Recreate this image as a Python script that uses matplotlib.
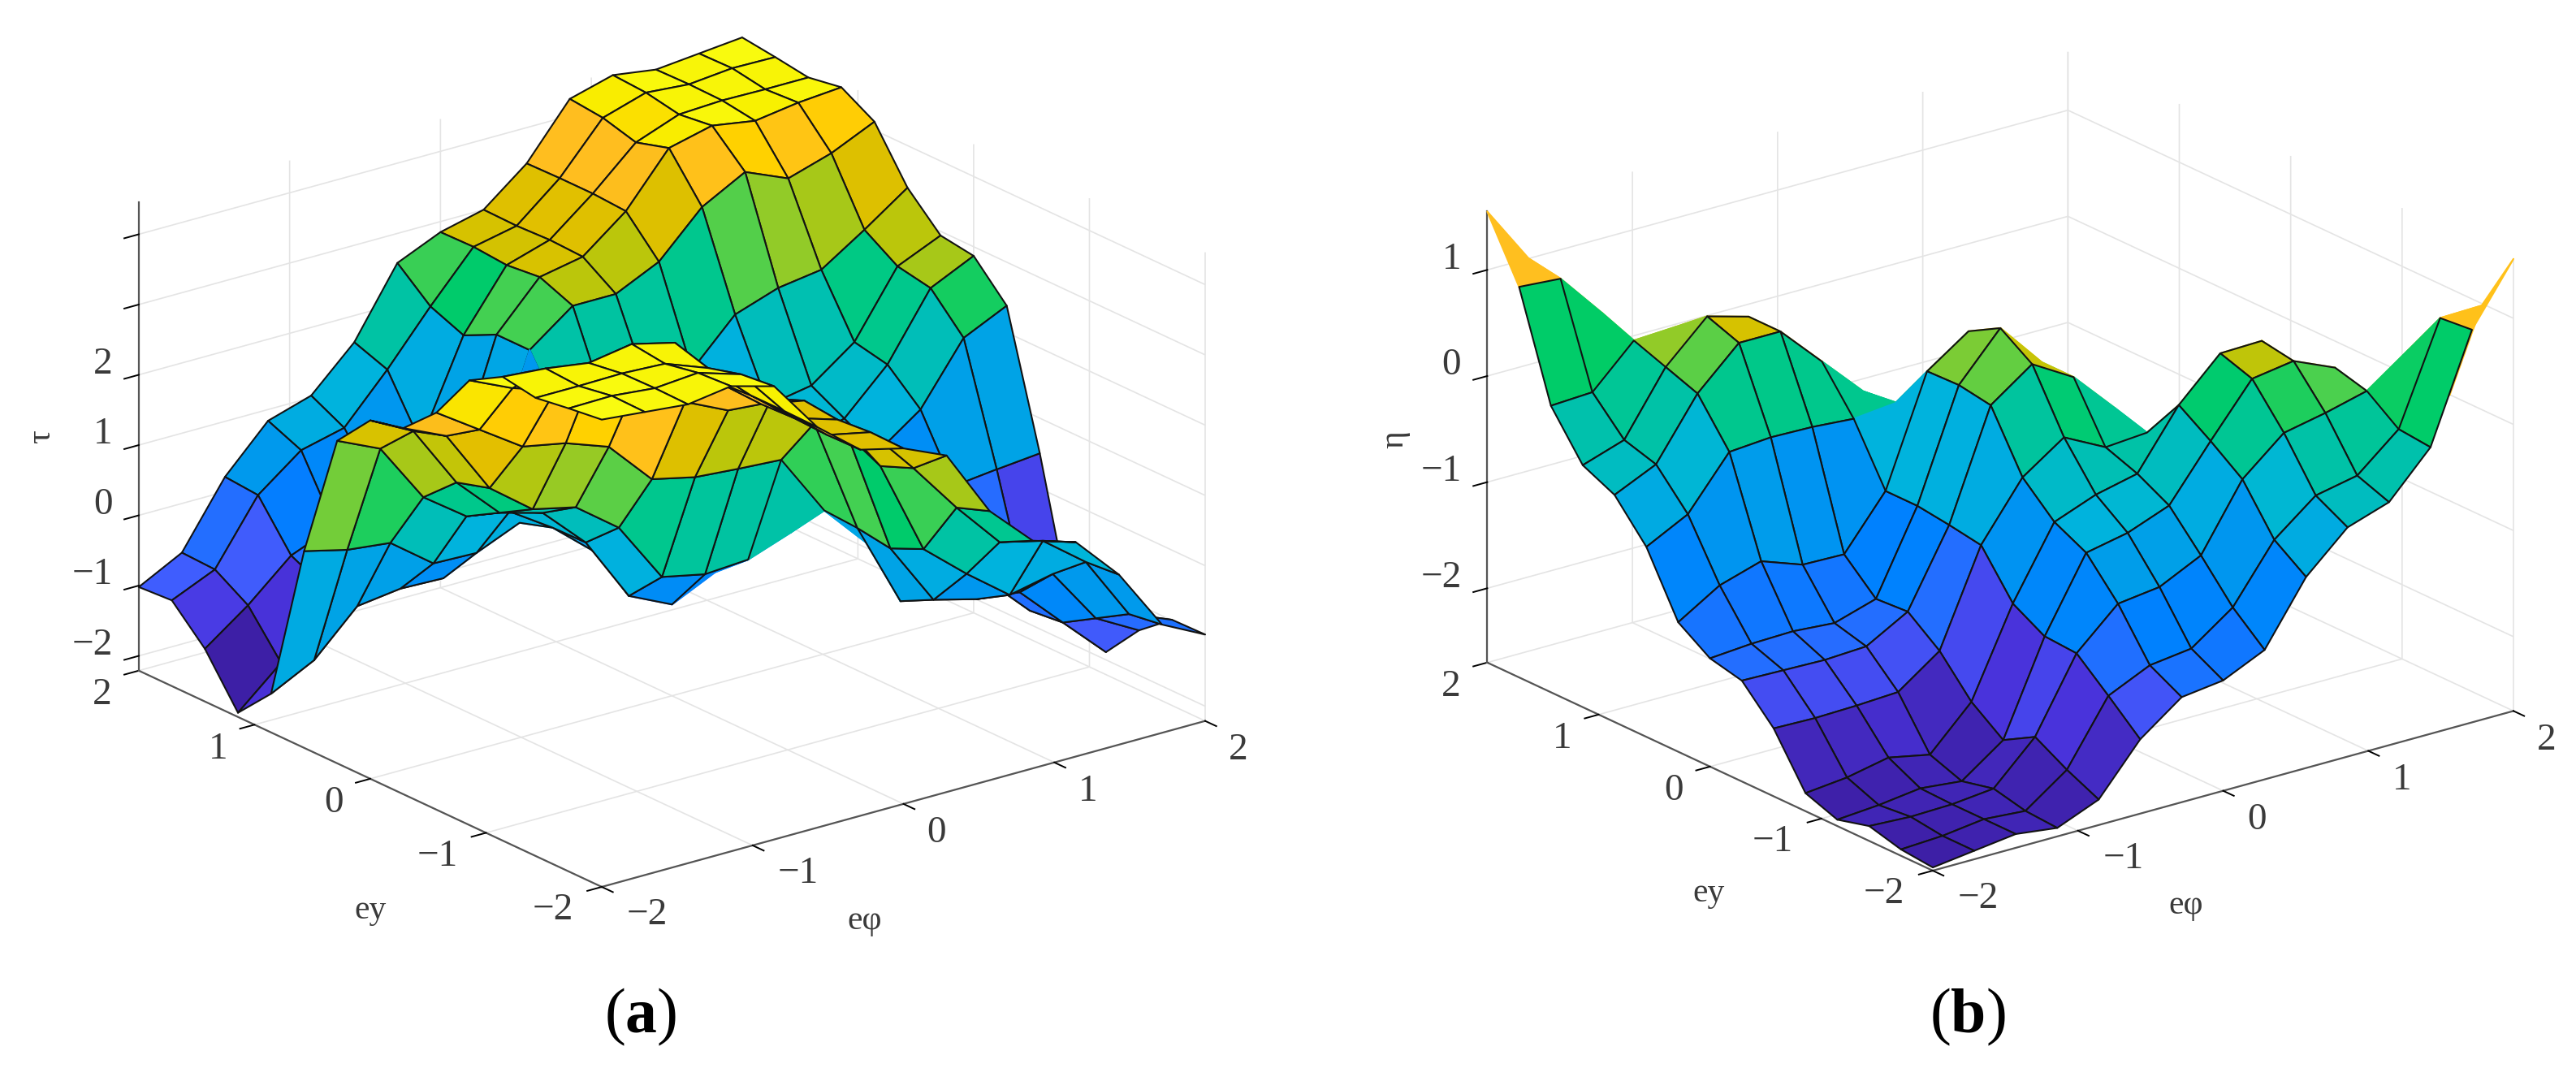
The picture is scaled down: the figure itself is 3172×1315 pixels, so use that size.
import numpy as np
import matplotlib
matplotlib.use("Agg")
import matplotlib.pyplot as plt
from matplotlib.colors import LinearSegmentedColormap
from mpl_toolkits.mplot3d import proj3d

plt.rcParams['font.family'] = ['Liberation Serif', 'DejaVu Sans']
plt.rcParams['mathtext.fontset'] = 'custom'
plt.rcParams['mathtext.rm'] = 'Liberation Serif'
plt.rcParams['mathtext.bf'] = 'Liberation Serif:bold'

axis_ticks = [-2, -1, 0, 1, 2]

# rows are ey from -2 to 2, columns are e_phi from -2 to 2
tau = [
    [4.44, 4.38, 4.32, 4.41, 4.24, 3.49, 3.00, 2.85, 2.58, 1.62, 1.03, 0.84, 0.21, -0.67, -0.98],
    [4.38, 4.39, 4.33, 4.38, 4.19, 3.50, 2.99, 2.86, 2.18, 1.45, 0.79, 0.64, 0.17, -0.74, -0.99],
    [4.31, 4.31, 4.32, 4.29, 4.06, 3.50, 3.01, 2.82, 1.99, 0.64, 0.12, -0.35, -0.22, -1.02, -1.36],
    [4.39, 4.34, 4.25, 4.35, 4.20, 3.47, 2.99, 2.87, 2.22, 0.43, -0.47, -0.63, -0.70, -1.30, -1.89],
    [4.12, 3.84, 3.65, 3.91, 3.58, 2.97, 2.68, 2.68, 2.16, 0.50, -0.71, -0.67, -0.75, -1.35, -1.66],
    [3.44, 3.03, 2.62, 2.50, 2.28, 1.65, 1.51, 1.46, 1.42, 0.53, -0.11, -0.09, 0.37, 0.44, 0.50],
    [3.00, 2.72, 1.81, 1.34, 1.20, 0.74, -0.13, -0.26, -0.22, 0.00, 0.70, 0.80, 1.24, 2.09, 2.38],
    [2.89, 2.57, 1.67, 1.07, 0.90, 0.31, -0.62, -0.91, -0.62, 0.31, 0.90, 1.06, 1.66, 2.58, 2.87],
    [2.38, 2.10, 1.24, 0.80, 0.70, 0.30, -0.22, -0.26, -0.13, 0.74, 1.20, 1.31, 1.76, 2.67, 2.94],
    [0.59, 0.44, 0.37, -0.09, -0.11, 0.15, 1.42, 1.46, 1.51, 1.65, 2.27, 2.48, 2.57, 2.97, 3.40],
    [-1.66, -1.35, -0.75, -0.67, -0.69, 0.50, 2.22, 2.68, 2.68, 2.97, 3.58, 3.91, 3.65, 3.84, 4.12],
    [-2.15, -1.61, -0.70, -0.63, -0.47, 0.43, 2.22, 2.87, 2.99, 3.47, 4.20, 4.35, 4.25, 4.34, 4.39],
    [-1.46, -1.01, -0.47, -0.22, 0.12, 0.64, 1.99, 2.82, 3.01, 3.50, 4.06, 4.29, 4.32, 4.31, 4.31],
    [-0.99, -0.72, 0.17, 0.64, 0.79, 1.45, 2.18, 2.86, 2.99, 3.50, 4.19, 4.38, 4.33, 4.39, 4.38],
    [-1.02, -0.70, 0.21, 0.84, 1.03, 1.62, 2.58, 2.85, 3.00, 3.49, 4.24, 4.41, 4.32, 4.38, 4.44],
]

eta = [
    [-2.67, -2.62, -2.57, -2.62, -2.46, -2.00, -1.71, -1.66, -1.48, -0.90, -0.54, -0.41, 0.00, 1.00, 1.56],
    [-2.64, -2.62, -2.57, -2.60, -2.32, -1.73, -1.55, -1.50, -1.22, -0.69, -0.38, -0.30, 0.03, 0.97, 0.98],
    [-2.56, -2.58, -2.57, -2.53, -2.15, -1.47, -1.11, -1.06, -0.87, -0.26, 0.07, 0.15, 0.25, 0.53, 0.00],
    [-2.64, -2.61, -2.56, -2.60, -2.32, -1.45, -0.77, -0.69, -0.54, -0.04, 0.44, 0.50, 0.33, -0.29, -0.42],
    [-2.53, -2.49, -2.41, -2.49, -2.10, -1.28, -0.62, -0.47, -0.38, 0.16, 0.54, 0.55, 0.18, -0.38, -0.56],
    [-2.06, -2.07, -2.06, -2.04, -1.76, -0.87, -0.34, -0.07, -0.27, -0.24, -0.21, -0.20, -0.23, -0.71, -0.91],
    [-1.75, -1.76, -1.77, -1.75, -1.53, -0.82, 0.20, 0.48, 0.25, -0.15, -1.27, -1.26, -1.12, -1.24, -1.48],
    [-1.68, -1.65, -1.64, -1.67, -1.55, -0.78, 0.25, 0.68, 0.25, -0.78, -1.55, -1.67, -1.64, -1.65, -1.68],
    [-1.48, -1.24, -1.12, -1.26, -1.27, -0.78, 0.24, 0.51, 0.20, -0.82, -1.53, -1.75, -1.77, -1.76, -1.75],
    [-0.91, -0.71, -0.23, -0.20, -0.21, -0.24, -0.20, -0.07, -0.34, -0.87, -1.76, -2.04, -2.06, -2.07, -2.06],
    [-0.56, -0.38, 0.18, 0.55, 0.55, 0.16, -0.23, -0.47, -0.62, -1.28, -2.10, -2.49, -2.41, -2.49, -2.53],
    [-0.42, -0.29, 0.29, 0.66, 0.55, -0.04, -0.54, -0.69, -0.77, -1.45, -2.32, -2.60, -2.56, -2.61, -2.64],
    [0.00, 0.02, 0.40, 0.42, 0.07, -0.26, -0.87, -1.06, -1.11, -1.47, -2.15, -2.53, -2.57, -2.58, -2.56],
    [0.98, 0.95, 0.52, -0.30, -0.38, -0.69, -1.22, -1.50, -1.55, -1.73, -2.32, -2.60, -2.57, -2.62, -2.64],
    [1.55, 1.00, 0.00, -0.41, -0.54, -0.90, -1.48, -1.66, -1.71, -2.00, -2.46, -2.62, -2.57, -2.62, -2.67],
]

cmap_stops = [0.0, 0.09, 0.18, 0.26, 0.38, 0.45, 0.52, 0.58, 0.635, 0.665, 0.70, 0.73, 0.76, 0.80, 0.86, 0.92, 0.97, 1.0]
cmap_colors = ['#3d1fa6', '#4a35e0', '#3f5fff', '#0080ff', '#00a0e8', '#00b4dc', '#00bfb5', '#00c88c',
               '#00cc66', '#48d050', '#8fcb2a', '#b8c60c', '#d6c200', '#e8be00', '#ffbe20', '#ffd000',
               '#f8f000', '#f9fb10']
surf_map = LinearSegmentedColormap.from_list('surf', list(zip(cmap_stops, cmap_colors)))

W, H = 3172, 1315
fig = plt.figure(figsize=(W / 200, H / 200), dpi=200)


def minus(v):
    return str(v).replace('-', '\u2212')


def bare_face_a(i, j):
    # the two notches under the front hill have no outline in the original
    return i + j in (13, 14) and 4 <= i <= 9


def bare_face_b(i, j):
    # neither do the back faces along the far rim of the bowl
    return i + j >= 13 and (i, j) not in ((3, 10), (4, 9), (6, 7), (10, 3), (11, 2))


def place(ax, bottom, right):
    # scale and shift the 3d axes so the floor corners land on the given pixels (y from top)
    ax.set_position([0.1, 0.1, 1000 / W, 1000 / H])
    for k in range(3):
        fig.canvas.draw()
        M = ax.get_proj()
        xl, yl = ax.get_xlim(), ax.get_ylim()
        p0 = ax.transData.transform(proj3d.proj_transform(xl[0], yl[0], ax.get_zlim()[0], M)[:2])
        p1 = ax.transData.transform(proj3d.proj_transform(xl[1], yl[0], ax.get_zlim()[0], M)[:2])
        pos = ax.get_position()
        side = pos.width * W * (right[0] - bottom[0]) / (p1[0] - p0[0])
        if k == 0:
            ax.set_position([pos.x0, pos.y0, side / W, side / H])
        else:
            ax.set_position([pos.x0 + (bottom[0] - p0[0]) / W, pos.y0 + (H - bottom[1] - p0[1]) / H,
                             side / W, side / H])


def tick_text(ax, point, text, offset):
    M = ax.get_proj()
    vx, vy, _ = proj3d.proj_transform(*point, M)
    ax.annotate(text, xy=(vx, vy), xycoords='data', xytext=(offset[0], -offset[1]), textcoords='offset pixels',
                ha='center', va='center', fontsize=17, color='#3a3a3a', annotation_clip=False)


def surface_panel(z_rows, zlim, zticks, zshown, bottom, right, bare_face):
    ax = fig.add_subplot(projection='3d')
    ax.patch.set_visible(False)
    ax.set_proj_type('ortho')
    ax.view_init(elev=21, azim=-127.5)
    ax.set_box_aspect((1, 1, 0.66))

    z = np.array(z_rows)
    x = np.linspace(-2, 2, z.shape[1])
    y = np.linspace(-2, 2, z.shape[0])
    X, Y = np.meshgrid(x, y)
    frac = (z - z.min()) / (z.max() - z.min())
    faces = surf_map(frac)
    surf = ax.plot_surface(X, Y, z, rstride=1, cstride=1, facecolors=faces, shade=False, linewidth=0.75)
    edges = []
    for j in range(z.shape[0] - 1):
        for i in range(z.shape[1] - 1):
            edges.append(faces[j, i] if bare_face(i, j) else (0.07, 0.07, 0.07, 1.0))
    surf.set_edgecolor(edges)

    ax.set_xlim(-2, 2, view_margin=0)
    ax.set_ylim(-2, 2, view_margin=0)
    ax.set_zlim(*zlim, view_margin=0)
    ax.set_xticks(axis_ticks, [''] * len(axis_ticks))
    ax.set_yticks(axis_ticks, [''] * len(axis_ticks))
    ax.set_zticks(zticks, [''] * len(zticks))

    for a in (ax.xaxis, ax.yaxis, ax.zaxis):
        a.set_pane_color((1, 1, 1, 0))
        a.pane.set_edgecolor('#dedede')
        a.pane.set_linewidth(0.6)
        a.line.set_color('#555555')
        a.line.set_linewidth(0.8)
        a._axinfo['grid'].update(color='#e4e4e4', linewidth=0.6)
        a._axinfo['tick'].update(color='#555555', inward_factor=0.3, outward_factor=0.0,
                                 linewidth={True: 0.7, False: 0.7})
    ax.zaxis._axinfo['juggled'] = (0, 2, 1)

    place(ax, bottom, right)

    for v in axis_ticks:
        tick_text(ax, (v, -2, zlim[0]), minus(v), (56, 35) if v < 0 else (41, 36))
        tick_text(ax, (-2, v, zlim[0]), minus(v), (-60, 29) if v < 0 else (-45, 30))
    for v in zshown:
        tick_text(ax, (-2, 2, v), minus(v), (-57, -13) if v < 0 else (-44, -13))
    return ax


ax_a = surface_panel(tau, (-2.21, 4.46), [-2, -1, 0, 1, 2, 3, 4], [-2, -1, 0, 1, 2], (741, 1092), (1484, 887), bare_face_a)
ax_b = surface_panel(eta, (-2.70, 1.55), [-2, -1, 0, 1], [-2, -1, 0, 1], (2380, 1072), (3095, 877), bare_face_b)

name_style = dict(fontsize=15, ha='center', va='center', color='#3a3a3a')
fig.text(456 / W, 1 - 1121 / H, 'ey', **name_style)
fig.text(1065 / W, 1 - 1134 / H, 'e\u03c6', **name_style)
fig.text(51 / W, 1 - 538 / H, '\u03c4', rotation=90, **name_style)
fig.text(2104 / W, 1 - 1100 / H, 'ey', **name_style)
fig.text(2692 / W, 1 - 1115 / H, 'e\u03c6', **name_style)
fig.text(1717 / W, 1 - 541 / H, '\u03b7', rotation=90, **name_style)

fig.text(789 / W, 1 - 1252 / H, r'($\mathbf{a}$)', fontsize=28, ha='center', va='center', color='black')
fig.text(2423 / W, 1 - 1252 / H, r'($\mathbf{b}$)', fontsize=28, ha='center', va='center', color='black')

fig.savefig('out.png', dpi=200)
